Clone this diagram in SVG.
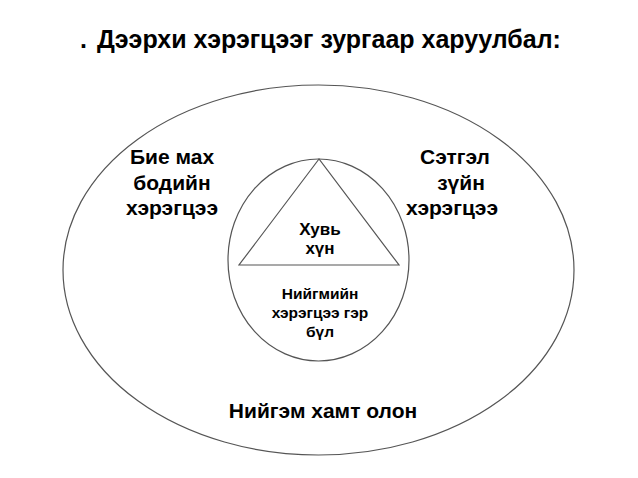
<svg xmlns="http://www.w3.org/2000/svg" width="638" height="478" viewBox="0 0 638 478">
<style>
.t{font-family:"Liberation Sans",Arial,sans-serif;font-weight:bold;fill:#000}
.s{fill:none;stroke:#555;stroke-width:1.2}
</style>
<rect width="638" height="478" fill="#fff"/>
<g id="title">
<text class="t" x="80" y="48" font-size="25">.</text>
<text class="t" x="97" y="48" font-size="25">Дээрхи хэрэгцээг зургаар харуулбал:</text>
</g>
<g id="society">
<ellipse class="s" cx="318.5" cy="270" rx="255.5" ry="185"/>
<text class="t" x="323" y="418" font-size="21" text-anchor="middle">Нийгэм хамт олон</text>
</g>
<g id="physical">
<text class="t" font-size="21" text-anchor="middle"><tspan x="172" y="164">Бие мах</tspan><tspan x="172" y="190">бодийн</tspan><tspan x="172" y="215">хэрэгцээ</tspan></text>
</g>
<g id="psychological">
<text class="t" font-size="21" text-anchor="middle"><tspan x="455" y="164">Сэтгэл</tspan><tspan x="461" y="190">зүйн</tspan><tspan x="452" y="215">хэрэгцээ</tspan></text>
</g>
<g id="family">
<ellipse class="s" cx="318.5" cy="260" rx="90.5" ry="101"/>
<text class="t" font-size="15.5" text-anchor="middle"><tspan x="320" y="299">Нийгмийн</tspan><tspan x="320" y="318">хэрэгцээ гэр</tspan><tspan x="320" y="337">бүл</tspan></text>
</g>
<g id="individual">
<polygon class="s" points="319,159 239,265 399,265"/>
<text class="t" font-size="17" text-anchor="middle"><tspan x="320" y="235">Хувь</tspan><tspan x="320" y="254">хүн</tspan></text>
</g>
<g id="connectors"></g>
</svg>
